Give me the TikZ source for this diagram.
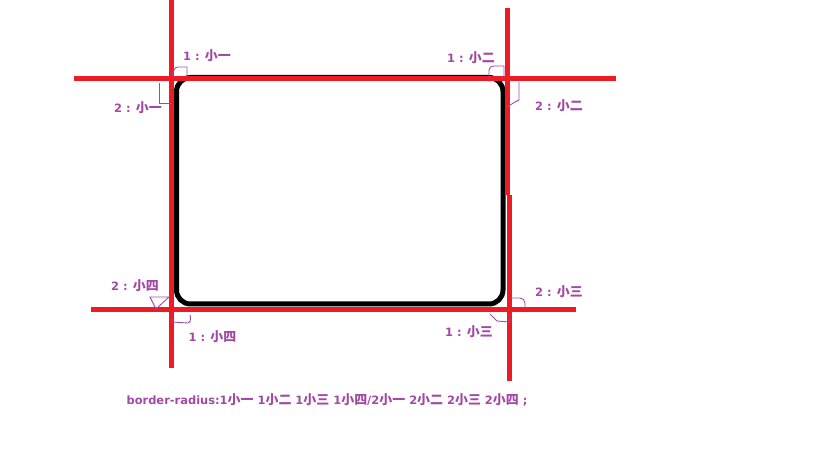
\documentclass[tikz,border=0pt]{standalone}
\usepackage{fontspec}
\setmainfont{DejaVu Sans}
\newfontfamily\cjkfont{Noto Sans CJK SC}
\newcommand\cn[1]{{\cjkfont\bfseries\fontsize{13}{14}\selectfont #1}}
\definecolor{paintred}{RGB}{237,28,36}
\definecolor{paintpurple}{RGB}{163,73,164}
\tikzset{
  guide/.style={paintred,line width=5bp},
  hint/.style={paintpurple,line width=0.9bp},
  radlabel/.style={paintpurple,font=\fontsize{11.5}{14}\selectfont\bfseries,inner sep=0pt}
}
\begin{document}
\begin{tikzpicture}[x=1bp,y=-1bp]
  \useasboundingbox (0,0) rectangle (819,460);
  % the box
  \draw[black,line width=5bp,rounded corners=14bp] (176.5,77.5) rectangle (503,304);
  % red guide lines
  \draw[guide] (171,0) -- (171,368);
  \draw[guide] (507.5,8) -- (507.5,195);
  \draw[guide] (509,195) -- (509,381);
  \draw[guide] (74,78.5) -- (616,78.5);
  \draw[guide] (91,310) -- (576,310);
  % small marks at the corners
  \draw[hint] (172,76) to[out=70,in=180] (178,67) -- (187,67) -- (187,77);
  \draw[hint] (159.5,83) -- (159.5,103) -- (172,103);
  \draw[hint] (489,82) -- (489,70) to[out=90,in=180] (494,66) -- (504,66) -- (504,77);
  \draw[hint] (519,82) -- (519,100) -- (515,102) -- (507,107);
  \draw[hint] (150,297) -- (169,297) -- (156,309) -- cycle;
  \draw[hint] (172,318) -- (172,322) -- (188,323) to[out=0,in=-90] (190.5,318) -- (190,315);
  \draw[hint] (510,298) -- (520,298) to[out=0,in=90] (525,303) -- (525,309);
  \draw[hint] (490,314) -- (497,321) -- (510,322) -- (510,315);
  % labels
  \node[radlabel] (tl1) at (207,56) {1 : \cn{小一}};
  \node[radlabel] (tl2) at (138,107.5) {2 : \cn{小一}};
  \node[radlabel] (tr1) at (471,58) {1 : \cn{小二}};
  \node[radlabel] (tr2) at (559,106) {2 : \cn{小二}};
  \node[radlabel] (br2) at (559,291.5) {2 : \cn{小三}};
  \node[radlabel] (br1) at (469,332) {1 : \cn{小三}};
  \node[radlabel] (bl2) at (135,286) {2 : \cn{小四}};
  \node[radlabel] (bl1) at (212.5,337) {1 : \cn{小四}};
  \node[radlabel] (rule) at (327,400) {border-radius:1\cn{小一} 1\cn{小二} 1\cn{小三} 1\cn{小四}/2\cn{小一} 2\cn{小二} 2\cn{小三} 2\cn{小四} ;};
\end{tikzpicture}
\end{document}
